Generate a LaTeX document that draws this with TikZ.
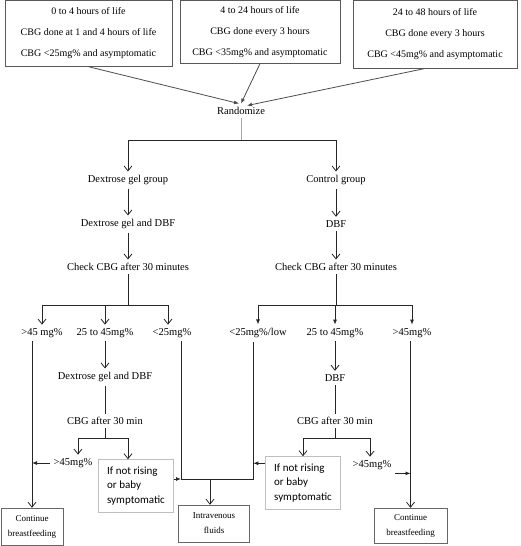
\documentclass[tikz,border=0pt]{standalone}
\usepackage{fontspec}
\setmainfont{Liberation Serif}
\newfontfamily\timesfont{Liberation Serif}
\newfontfamily\calibfont{Carlito}
\usetikzlibrary{arrows.meta,positioning}

\begin{document}
\begin{tikzpicture}[x=1pt,y=-1pt,->,>={Straight Barb[length=5pt,width=8pt]},
                    line width=0.8pt,draw=black!85,on grid,node distance=44pt,
                    font=\timesfont\fontsize{10.5}{12}\selectfont]
\tikzstyle{agebox}=[rectangle,thin,draw=black!65,align=center,font=\timesfont\fontsize{10}{21}\selectfont]
\tikzstyle{endbox}=[rectangle,thin,draw=black!60,align=center,font=\timesfont\fontsize{9}{15}\selectfont]
\tikzstyle{notebox}=[rectangle,thin,draw=black!25,align=left,minimum width=75pt,minimum height=53pt,
                     font=\calibfont\fontsize{11}{14.5}\selectfont]
\tikzstyle{fillarrow}=[-{Latex[length=5pt,width=4pt]}]

\useasboundingbox (0,0) rectangle (520,546);

% three age groups
\node[agebox,minimum width=167pt,minimum height=66pt] (age1) at (88.5,33.5)
  {0 to 4 hours of life\\CBG done at 1 and 4 hours of life\\CBG <25mg\% and asymptomatic};
\node[agebox,minimum width=160pt,minimum height=63pt] (age2) at (260,32)
  {4 to 24 hours of life\\CBG done every 3 hours\\CBG <35mg\% and asymptomatic};
\node[agebox,minimum width=164pt,minimum height=68pt] (age3) at (435,34.5)
  {24 to 48 hours of life\\CBG done every 3 hours\\CBG <45mg\% and asymptomatic};

\node (rand) at (241,111) {Randomize};

% dextrose gel arm
\node (dgel) [below left=69pt and 113pt of rand] {Dextrose gel group};
\node (dgdbf) [below=of dgel] {Dextrose gel and DBF};
\node (chk1) [below=43pt of dgdbf] {Check CBG after 30 minutes};

\node (gtA) [below left=66pt and 86pt of chk1] {>45 mg\%};
\node (midA) [below left=66pt and 23pt of chk1] {25 to 45mg\%};
\node (ltA) [below right=66pt and 44pt of chk1] {<25mg\%};
\node (dgdbf2) [below=of midA] {Dextrose gel and DBF};
\node (cbg1) [below=of dgdbf2] {CBG after 30 min};
\node (gtB) [below left=42pt and 32pt of cbg1] {>45mg\%};
\node[notebox] (nrA) [below right=65pt and 31pt of cbg1] {If not rising\\or baby\\symptomatic};

% control arm
\node (ctrl) [below right=69pt and 95pt of rand] {Control group};
\node (dbf) [below=of ctrl] {DBF};
\node (chk2) [below=43pt of dbf] {Check CBG after 30 minutes};

\node (ltB) [below left=66pt and 78pt of chk2] {<25mg\%/low};
\node (midB) [below left=66pt and 1pt of chk2] {25 to 45mg\%};
\node (gtC) [below right=66pt and 76pt of chk2] {>45mg\%};
\node (dbf2) [below=45pt of midB] {DBF};
\node (cbg2) [below=43pt of dbf2] {CBG after 30 min};
\node[notebox] (nrB) [below left=62pt and 32pt of cbg2] {If not rising\\or baby\\symptomatic};
\node (gtD) [below right=44pt and 37pt of cbg2] {>45mg\%};

% outcomes
\node[endbox,minimum width=62pt,minimum height=37pt] (cbf1) at (32,526.5) {Continue\\breastfeeding};
\node[endbox,minimum width=71pt,minimum height=37pt] (iv) at (214,523.5) {Intravenous\\fluids};
\node[endbox,minimum width=73pt,minimum height=35pt] (cbf2) at (410.5,525.5) {Continue\\breastfeeding};

\coordinate (jL) at (181,479);
\coordinate (jR) at (253,479);

\draw[fillarrow,draw=black!70] (age1.south) -- ([xshift=-2pt]rand.north);
\draw[fillarrow,draw=black!70] (age2.south) -- (rand.north);
\draw[fillarrow,draw=black!70] ([xshift=-11pt]age3.south) -- ([xshift=6pt,yshift=-2pt]rand.north);

\draw[-,thin,draw=black!35] (rand.south) -- ++(0,22);
\draw[->] (rand.south) ++(0,22) -| (dgel.north);
\draw[->] (rand.south) ++(0,22) -| (ctrl.north);

\draw[->] (dgel) -- (dgdbf);
\draw[->] (dgdbf) -- (chk1);
\draw[->] (ctrl) -- (dbf);
\draw[->] (dbf) -- (chk2);

\draw[->] (chk1.south) -- ++(0,31) -| (gtA.north);
\draw[->] (chk1.south) -- ++(0,31) -| (midA.north);
\draw[->] (chk1.south) -- ++(0,31) -| ([xshift=-4pt]ltA.north);
\draw[fillarrow] (chk2.south) -- ++(0,31) -| (ltB.north);
\draw[fillarrow] (chk2.south) -- ++(0,31) -| (midB.north);
\draw[fillarrow] (chk2.south) -- ++(0,31) -| (gtC.north);

\draw[->] (gtA.south -| cbf1.north) -- (cbf1.north);
\draw[->] (midA) -- (dgdbf2);
\draw[-] (dgdbf2) -- (cbg1);
\draw[->] (cbg1.south) -- ++(0,10) -| ([xshift=5pt]gtB.north);
\draw[->] (cbg1.south) -- ++(0,10) -| ([xshift=-8pt]nrA.north);
\draw[fillarrow] (gtB.west) -- (gtB.west -| cbf1.north);

\draw[-] (ltA.south -| jL) -- (jL) -- (jR) -- (ltB.south -| jR);
\draw[fillarrow] (nrA.east |- jL) -- (jL);
\draw[->] ([xshift=-4pt]iv.north |- jL) -- ([xshift=-4pt]iv.north);

\draw[->] (midB) -- (dbf2);
\draw[-] (dbf2) -- (cbg2);
\draw[->] (cbg2.south) -- ++(0,10) -| (nrB.north);
\draw[->] (cbg2.south) -- ++(0,10) -| ([xshift=-2pt]gtD.north);
\draw[fillarrow] ([yshift=-7pt]nrB.north west) -- ++(-12,0);
\draw[->] (gtC.south -| cbf2.north) -- (cbf2.north);
\draw[fillarrow] (gtD.south east) -- (gtD.south east -| cbf2.north);
\end{tikzpicture}
\end{document}
